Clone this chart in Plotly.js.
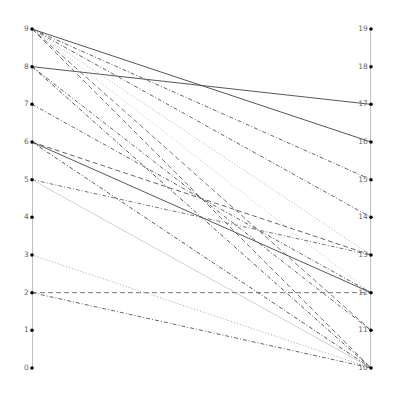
<!DOCTYPE html>
<html><head><meta charset="utf-8">
<script src="https://cdn.plot.ly/plotly-3.0.1.min.js"></script>
<style>html,body{margin:0;padding:0;background:#fff}#g{width:400px;height:400px}</style>
</head><body><div id="g"></div>
<script>
var leftNodes = [0,1,2,3,4,5,6,7,8,9];
var rightNodes = [10,11,12,13,14,15,16,17,18,19];
var edgeSource = [9,8,9,9,9,9,9,9,8,8,7,6,6,6,5,5,3,2,2];
var edgeTarget = [16,17,15,14,13,12,11,10,11,10,12,13,12,10,13,10,10,12,10];
var edgeStyle = ['solid','solid','dashdot','dashdot','dot','dot','dash','dash','dashdot','dashdot','dashdot','dash','solid','dashdot','dashdot','solid','dot','dash','dashdot'];
var edgeColor = ['#444','#444','#555','#555','#aaa','#bbb','#666','#666','#555','#444','#555','#555','#444','#444','#666','#ccc','#999','#666','#555'];

var dashMap = {solid:'solid', dash:'5px,3px', dashdot:'4px,2px,1px,2px', dot:'1px,2px'};
function nodeX(n){ return n < 10 ? 0 : 1; }
function nodeY(n){ return n < 10 ? n : n - 10; }

var traces = [];
for (var i = 0; i < edgeSource.length; i++) {
  var s = edgeSource[i], t = edgeTarget[i];
  traces.push({
    type:'scatter', mode:'lines', hoverinfo:'skip', showlegend:false,
    x:[nodeX(s), nodeX(t)], y:[nodeY(s), nodeY(t)],
    line:{color:edgeColor[i], width:0.9, dash:dashMap[edgeStyle[i]]}
  });
}
traces.push({type:'scatter', mode:'lines', showlegend:false, hoverinfo:'skip',
  x:leftNodes.map(nodeX), y:leftNodes.map(nodeY), line:{color:'#aaa', width:1.5}});
traces.push({type:'scatter', mode:'lines', showlegend:false, hoverinfo:'skip',
  x:rightNodes.map(nodeX), y:rightNodes.map(nodeY), line:{color:'#aaa', width:1.5}});
var allNodes = leftNodes.concat(rightNodes);
traces.push({type:'scatter', mode:'markers+text', showlegend:false, cliponaxis:false,
  x:allNodes.map(nodeX), y:allNodes.map(nodeY),
  text:allNodes.map(String), textposition:'middle left',
  textfont:{family:'DejaVu Sans, sans-serif', size:7.5, color:'#666'},
  marker:{color:'#000', size:3.5}});

Plotly.newPlot('g', traces, {
  width:400, height:400,
  margin:{l:32, r:29, t:29, b:32},
  paper_bgcolor:'#fff', plot_bgcolor:'#fff',
  xaxis:{visible:false, range:[0,1], fixedrange:true},
  yaxis:{visible:false, range:[0,9], fixedrange:true},
  showlegend:false
}, {staticPlot:true, displayModeBar:false});
</script></body></html>
